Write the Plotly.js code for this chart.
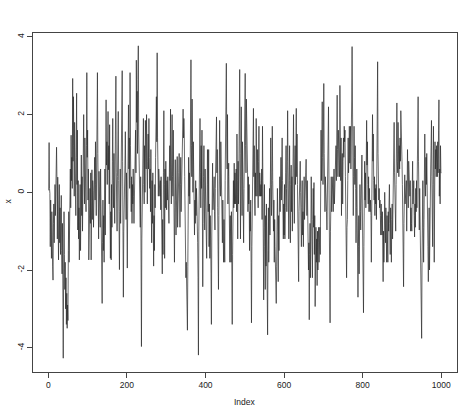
<!DOCTYPE html>
<html>
<head>
<meta charset="utf-8">
<script src="https://cdn.plot.ly/plotly-3.0.1.min.js"></script>
<style>
html,body{margin:0;padding:0;background:#fff;}
#chart{width:474px;height:414px;}
</style>
</head>
<body>
<div id="chart"></div>
<script>
// Series values x[1..1000]
const values = [
0.05,1.28,0.1,-0.03,-1.4,-0.2,-0.9,-1.7,-0.5,-1.1,-1.9,-2.26,-0.8,-0.3,-1.3,-0.5,0.2,-0.6,0.4,-0.2,
1.16,0.3,-1.2,0.39,-0.7,-1.74,-0.5,0.2,-1.3,-0.4,-1.6,-0.9,-0.08,-1.5,-2.1,-0.8,-1.9,-4.27,-2.0,-0.5,
-1.6,-2.5,-1.8,-3.0,-2.2,-3.4,-2.6,-3.5,-2.9,-3.3,-1.5,-0.5,-1.8,0.2,-0.9,0.6,-0.4,1.47,0.3,0.9,
0.1,2.93,0.8,2.46,1.2,-0.1,1.8,0.4,1.5,-0.6,0.9,2.55,0.2,1.6,-0.97,0.3,-1.2,-0.4,-1.74,-0.8,
0.2,-1.5,-0.3,0.96,-0.6,0.4,-1.0,0.7,-0.2,2.0,0.5,-0.3,1.4,0.1,0.8,-0.5,1.2,3.08,0.9,1.6,
-0.2,0.6,-1.74,-0.6,-1.3,0.1,-0.8,0.5,-1.74,-0.4,0.58,-0.7,0.3,0.05,-0.9,0.4,-0.5,0.9,-0.2,1.3,
0.2,-0.6,1.5,0.6,3.08,1.0,0.2,-1.2,0.54,-0.4,0.3,-0.9,0.6,-0.3,-1.4,-0.7,-2.86,-1.3,-0.2,-1.5,
-0.6,-1.8,-0.4,0.6,-1.1,0.9,2.38,0.7,1.3,0.2,1.1,2.08,0.58,1.2,-0.3,1.74,-0.6,-1.7,-0.5,-1.74,
0.2,-0.9,0.8,1.9,0.3,-0.4,1.0,0.1,-0.8,0.6,1.4,2.99,0.5,-0.3,-1.0,0.4,1.2,2.08,0.3,-1.2,
-1.99,-0.5,0.6,-0.8,0.9,0.2,1.5,3.13,0.8,-0.6,-2.7,-1.0,0.3,-0.4,0.7,1.56,0.2,-0.7,0.5,-1.2,
-1.95,-0.3,0.8,2.25,0.6,1.4,0.1,3.08,1.2,0.3,-0.5,0.4,-0.8,0.2,-0.3,0.6,-0.1,-0.8,0.1,-0.5,
0.7,1.6,0.5,3.4,1.8,2.6,1.0,2.9,3.77,1.5,0.6,-0.3,-0.02,-0.9,0.4,-1.5,-3.97,-1.2,0.1,-0.4,
0.5,1.9,0.2,-0.3,1.2,0.0,1.85,1.3,0.6,2.0,1.2,-0.3,0.8,1.5,0.6,1.9,0.9,0.1,0.6,-0.5,
1.1,-0.4,-1.3,0.3,-0.8,0.5,-1.2,-1.9,-0.6,-1.5,0.2,-0.4,0.9,1.6,2.46,1.3,3.59,1.4,0.4,-0.1,
0.6,0.0,0.5,-0.1,0.3,-0.45,0.4,-0.3,-1.2,-2.1,-0.7,-1.6,0.5,2.1,0.2,-1.7,0.6,-0.4,0.8,0.1,
-0.45,0.3,-0.2,0.4,-0.4,0.2,-0.8,0.5,1.2,0.3,2.14,0.6,-0.3,1.1,2.0,0.4,-0.1,1.6,0.5,-0.6,
-1.8,-0.4,0.84,-0.2,-1.1,0.3,-0.5,0.92,-0.9,0.1,-0.4,0.5,1.0,-0.3,-0.9,0.2,0.9,-0.5,0.3,1.1,
0.5,1.6,2.14,1.4,1.9,1.5,0.4,-0.8,-1.7,-2.2,-1.8,-2.8,-2.3,-3.55,-1.9,-0.3,0.9,-0.1,0.5,-0.3,
0.6,1.5,3.41,1.2,0.4,2.4,0.5,0.0,1.3,0.2,0.4,-1.1,-0.2,-0.8,0.3,-0.6,0.1,-0.3,-0.6,-1.3,
-2.2,-4.19,-1.0,0.3,-0.4,1.9,0.5,-0.4,1.2,0.1,1.6,-0.5,-2.43,-0.8,0.4,1.2,-0.3,-0.97,0.6,-0.2,
0.5,-0.6,-1.7,-0.4,1.1,0.2,-0.5,1.1,-1.4,-0.3,-1.7,-0.6,-1.2,-2.1,-3.4,-1.1,0.2,0.75,-0.45,0.3,
-0.2,0.4,-0.5,-0.97,0.1,0.8,0.5,1.94,0.5,1.1,-0.4,-1.3,-2.5,-0.6,0.6,1.85,0.2,-0.1,1.3,0.4,
0.4,-0.6,-1.3,-0.2,-0.9,-1.8,-0.7,-1.2,-1.8,0.3,2.1,0.8,3.32,1.4,0.6,2.0,-0.3,0.4,0.75,-0.1,
0.5,-1.8,-0.6,-1.2,-1.8,-0.5,-2.2,-3.4,-1.6,-0.2,0.3,-0.4,0.75,-0.3,0.5,-0.3,0.2,0.6,-0.5,1.5,
0.3,-1.2,0.8,-0.3,0.6,1.4,3.16,1.0,-1.2,0.4,2.2,0.7,-0.6,1.3,0.2,-0.5,-1.3,0.1,0.8,1.8,
3.06,1.2,0.5,2.4,0.8,1.5,0.5,-0.5,0.4,-0.3,0.2,-1.5,-0.5,-1.0,-0.2,-1.8,-3.36,-1.4,-0.2,-0.9,
0.6,2.16,0.4,1.2,-0.2,-0.6,0.5,-0.1,1.9,0.6,-0.1,1.1,0.3,-0.4,0.8,1.7,-0.1,0.5,0.3,-0.1,
0.2,-0.1,0.6,-0.7,1.7,0.3,-1.2,-2.77,-0.9,0.2,-1.4,-2.5,-0.6,-1.9,-0.3,-1.2,-2.0,-3.67,-1.5,-0.4,
-1.8,-0.5,0.1,-1.1,-0.3,1.4,0.2,-0.6,0.5,1.7,0.3,-0.5,-1.0,-0.2,-1.8,-0.7,-1.4,-2.3,-1.6,-2.86,
-1.9,-0.8,0.1,-1.0,-2.3,-0.6,-1.5,-0.3,0.4,-0.5,0.2,0.9,-0.2,0.5,1.4,0.3,-0.6,-1.2,-0.3,-1.1,
0.2,-1.2,-0.4,0.5,1.2,0.1,-0.5,0.8,2.1,0.6,0.1,-1.2,0.3,1.2,-0.4,-1.3,0.2,0.7,-0.5,0.4,
-1.0,0.3,-0.4,2.0,0.5,-0.8,0.6,1.2,0.2,0.9,2.16,0.4,1.5,0.2,-0.6,-1.2,-2.3,-0.5,0.3,-0.2,
0.8,0.0,-0.6,-1.4,-0.4,0.3,-1.1,-0.5,-1.4,-0.2,0.4,-0.7,0.1,-0.3,0.5,0.85,-0.2,-0.6,0.3,-0.4,
-1.2,-2.0,-1.3,-3.28,-1.6,-0.8,-2.2,-1.0,0.4,-0.5,-1.4,-2.2,-0.7,0.1,-0.9,0.25,-1.6,-0.6,-2.94,-1.5,
-0.9,-1.8,-1.2,-2.4,-1.0,-2.0,-1.3,-0.9,-1.8,-1.2,-0.9,-1.6,-0.2,1.6,0.3,1.2,2.33,0.9,0.2,1.5,
2.8,1.0,0.2,-0.5,0.4,-0.3,0.3,-0.5,-0.97,0.2,1.0,0.4,2.2,0.6,-0.8,-1.9,-3.36,-1.0,0.1,0.4,
-0.5,0.3,-0.2,0.4,-0.5,0.1,0.6,-0.3,0.2,-0.1,0.5,1.2,0.3,1.6,2.5,1.1,0.4,1.6,0.8,1.3,
0.4,2.75,1.2,0.3,1.4,-0.6,0.5,1.0,-0.3,0.8,1.4,0.9,1.7,1.3,1.6,0.4,-0.8,-2.0,-2.2,-0.9,
-0.7,0.3,1.4,0.5,0.9,1.7,0.75,1.3,1.7,0.6,1.2,2.4,3.75,1.5,0.8,-0.6,0.4,1.7,0.9,0.2,
1.2,0.1,-1.3,-0.4,0.6,-0.5,-1.2,-2.7,-1.4,-0.6,-2.1,-0.8,0.2,-0.5,-0.97,-0.2,0.4,0.96,-0.3,-1.2,
-2.0,-3.1,-1.4,0.3,0.8,-0.2,0.5,-0.4,0.6,1.85,0.7,1.3,0.2,-0.3,0.4,-0.5,0.1,-0.4,-0.5,-0.2,
-0.6,-1.8,-0.4,0.6,2.0,0.8,1.5,0.3,-0.2,0.4,-0.6,0.1,-0.3,0.2,-0.7,0.3,1.2,3.36,1.0,0.3,
-0.2,0.1,-0.4,-0.2,-0.6,-1.1,-0.3,-0.9,-1.1,-0.5,-1.4,-2.3,-1.0,-1.8,-1.2,0.0,-0.7,-1.3,-0.4,-0.9,
-1.8,-0.6,-1.2,-1.8,-0.5,-1.0,-0.3,0.2,-0.8,-1.6,-0.4,-1.1,-1.8,-0.7,-0.3,-1.2,-0.2,0.6,0.1,1.8,
0.5,-0.3,0.4,-1.0,0.2,1.1,2.3,0.8,0.5,1.8,0.9,0.4,1.2,0.6,1.4,0.8,2.1,1.0,1.5,0.8,
0.2,-0.6,-1.4,-2.43,-0.8,0.1,0.45,-0.3,0.2,-0.1,0.3,-1.0,-0.2,1.1,0.3,-0.4,0.8,0.1,0.5,-0.1,
0.3,-1.0,-0.4,-0.8,-1.0,0.1,0.8,-0.3,0.2,0.3,-0.6,-1.15,-0.3,-0.9,0.1,-0.5,0.3,-0.4,0.6,1.4,
2.46,0.8,-0.2,-0.97,0.1,-0.6,-0.97,-1.6,-2.5,-3.76,-1.8,-0.6,0.3,-0.9,-1.8,-0.7,0.4,1.5,0.3,-0.1,
0.9,0.2,1.0,-0.97,-0.3,-1.4,-2.3,-1.2,-0.4,-2.0,0.3,-0.5,0.6,1.2,1.85,0.4,-0.8,-1.4,0.2,1.7,
0.5,-1.8,-0.2,1.3,0.6,1.1,0.4,1.2,0.7,0.4,1.3,0.5,1.6,2.38,-0.1,0.6,-0.3,1.2,0.5,0.5
];
const index = values.map((v, k) => k + 1);

const xTicks = [0, 200, 400, 600, 800, 1000];
const yTicks = [-4, -2, 0, 2, 4];
const xTitle = "Index";
const yTitle = "x";

const fontFamily = "Liberation Sans, Arial, Helvetica, sans-serif";
const textColor = "#222";

const trace = {
  x: index,
  y: values,
  type: "scatter",
  mode: "lines",
  line: {color: "#2a2a2a", width: 0.7},
  hoverinfo: "skip"
};

const layout = {
  width: 474,
  height: 414,
  margin: {l: 33, r: 17, t: 33, b: 42, pad: 0},
  paper_bgcolor: "#ffffff",
  plot_bgcolor: "#ffffff",
  showlegend: false,
  font: {family: fontFamily, size: 8.5, color: textColor},
  xaxis: {
    range: [-38.96, 1039.96],
    tickmode: "array",
    tickvals: xTicks,
    ticktext: xTicks.map(String),
    ticks: "outside",
    ticklen: 5,
    tickwidth: 1,
    tickcolor: "#444",
    showline: true,
    mirror: true,
    linecolor: "#444",
    linewidth: 1,
    showgrid: false,
    zeroline: false,
    tickfont: {family: fontFamily, size: 8.5, color: textColor}
  },
  yaxis: {
    range: [-4.625, 4.10],
    tickmode: "array",
    tickvals: yTicks,
    ticktext: yTicks.map(String),
    tickangle: -90,
    ticks: "outside",
    ticklen: 5,
    tickwidth: 1,
    tickcolor: "#444",
    showline: true,
    mirror: true,
    linecolor: "#444",
    linewidth: 1,
    showgrid: false,
    zeroline: false,
    tickfont: {family: fontFamily, size: 8.5, color: textColor}
  },
  annotations: [
    {text: xTitle, xref: "paper", yref: "paper", x: 0.5, y: -0.0885,
     xanchor: "center", yanchor: "middle", showarrow: false,
     font: {family: fontFamily, size: 8.5, color: textColor}},
    {text: yTitle, xref: "paper", yref: "paper", x: -0.058, y: 0.504,
     xanchor: "center", yanchor: "middle", textangle: -90, showarrow: false,
     font: {family: fontFamily, size: 8.5, color: textColor}}
  ]
};

Plotly.newPlot("chart", [trace], layout, {displayModeBar: false, staticPlot: true});
</script>
</body>
</html>
